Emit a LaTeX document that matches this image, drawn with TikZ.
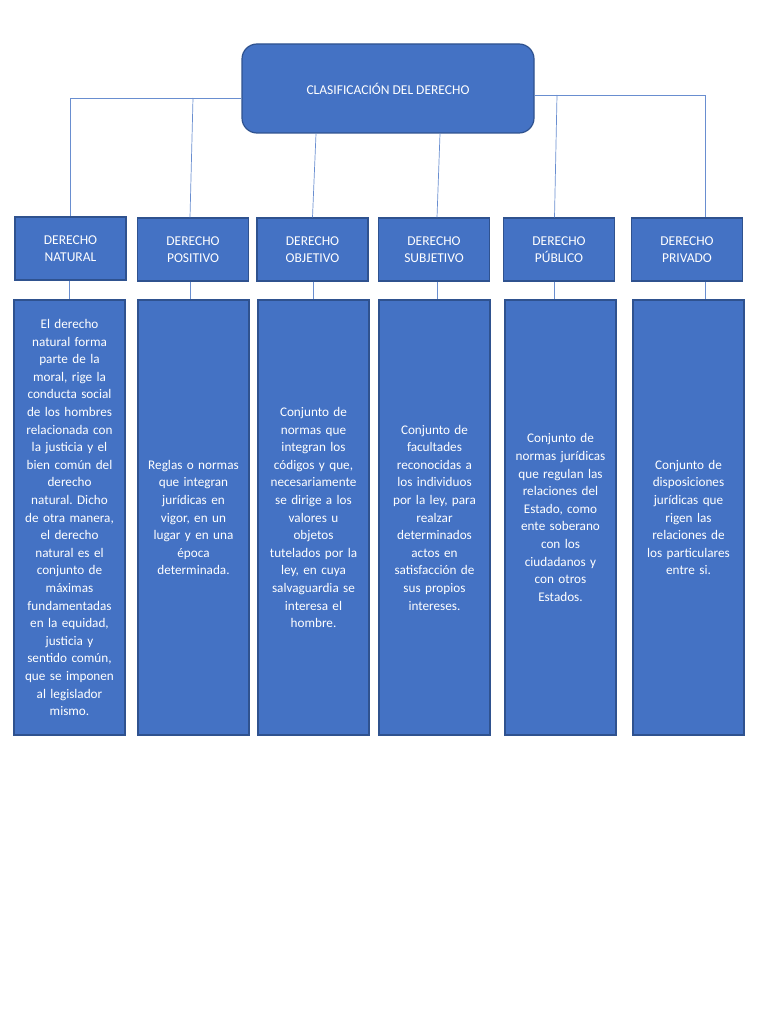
\documentclass[tikz,border=0pt]{standalone}
\usepackage{fontspec}
\setmainfont{Carlito}
\usetikzlibrary{positioning}
\definecolor{azul}{HTML}{4472C4}
\definecolor{borde}{HTML}{2F528F}
\frenchspacing
\begin{document}
\begin{tikzpicture}[x=1pt, y=-1pt,
    caja/.style={draw=borde, line width=1.2pt, fill=azul, text=white, align=center,
      font=\fontsize{13.5}{17}\selectfont, inner sep=2pt},
    rama/.style={caja, minimum width=111pt, minimum height=63pt},
    texto/.style={caja, minimum width=111pt, minimum height=435pt, text width=107pt,
      font=\fontsize{13.2}{17.6}\selectfont},
    conector/.style={draw=azul!80, line width=0.7pt}]
  \useasboundingbox (0,0) rectangle (768,1024);
  % Titulo
  \node[caja, rounded corners=15pt, minimum width=292pt, minimum height=89pt]
    (titulo) at (388,88.5) {CLASIFICACIÓN DEL DERECHO};
  % Ramas
  \node[rama] (natural)  at (70.5,248.5)  {DERECHO\\NATURAL};
  \node[rama] (positivo) at (193,249.5)   {DERECHO\\POSITIVO};
  \node[rama] (objetivo) at (312.5,249.5) {DERECHO\\OBJETIVO};
  \node[rama] (subjetivo) at (434,249.5)  {DERECHO\\SUBJETIVO};
  \node[rama] (publico)  at (559,249.5)   {DERECHO\\PÚBLICO};
  \node[rama] (privado)  at (687,249.5)   {DERECHO\\PRIVADO};
  % Descripciones
  \node[texto] (dnatural) at (69.5,517.5) {El derecho\\natural forma\\parte de la\\moral, rige la\\conducta social\\de los hombres\\relacionada con\\la justicia y el\\bien común del\\derecho\\natural. Dicho\\de otra manera,\\el derecho\\natural es el\\conjunto de\\máximas\\fundamentadas\\en la equidad,\\justicia y\\sentido común,\\que se imponen\\al legislador\\mismo.};
  \node[texto] (dpositivo) at (193.5,517.5) {Reglas o normas\\que integran\\jurídicas en\\vigor, en un\\lugar y en una\\época\\determinada.};
  \node[texto] (dobjetivo) at (313.5,517.5) {Conjunto de\\normas que\\integran los\\códigos y que,\\necesariamente\\se dirige a los\\valores u\\objetos\\tutelados por la\\ley, en cuya\\salvaguardia se\\interesa el\\hombre.};
  \node[texto] (dsubjetivo) at (434.5,517.5) {Conjunto de\\facultades\\reconocidas a\\los individuos\\por la ley, para\\realzar\\determinados\\actos en\\satisfacción de\\sus propios\\intereses.};
  \node[texto] (dpublico) at (560.5,517.5) {Conjunto de\\normas jurídicas\\que regulan las\\relaciones del\\Estado, como\\ente soberano\\con los\\ciudadanos y\\con otros\\Estados.};
  \node[texto] (dprivado) at (688.5,517.5) {Conjunto de\\disposiciones\\jurídicas que\\rigen las\\relaciones de\\los particulares\\entre si.};
  % Conectores
  \coordinate (izq) at (193,98);
  \coordinate (der) at (557,95);
  \draw[conector] ([yshift=-9.5pt]titulo.west) -| (natural.north);
  \draw[conector] (izq) -- ([xshift=-3pt]positivo.north);
  \draw[conector] ([xshift=-72pt]titulo.south) -- (objetivo.north);
  \draw[conector] ([xshift=52pt]titulo.south) -- ([xshift=3pt]subjetivo.north);
  \draw[conector] ([yshift=-6.5pt]titulo.east) -| ([xshift=18pt]privado.north);
  \draw[conector] (der) -- ([xshift=-4.5pt]publico.north);
  \foreach \r/\d in {natural/-1.5,positivo/-3,objetivo/0.5,subjetivo/3,publico/-4.5,privado/18}
    \draw[conector] ([xshift=\d pt]\r.south) -- ([xshift=\d pt]\r.south |- d\r.north);
\end{tikzpicture}
\end{document}
